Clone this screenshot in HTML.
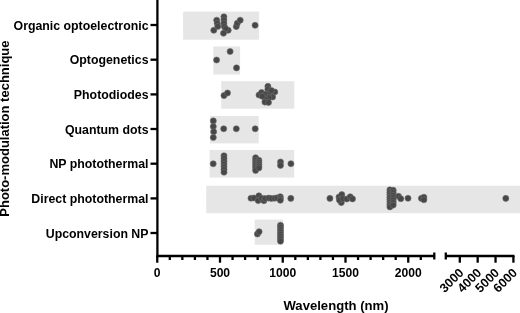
<!DOCTYPE html>
<html><head><meta charset="utf-8"><title>Photo-modulation technique vs wavelength</title>
<style>html,body{margin:0;padding:0;background:#fff}svg{display:block}</style></head><body>
<svg width="520" height="313" viewBox="0 0 520 313">
<rect width="520" height="313" fill="#fff"/>
<defs><filter id="soft" filterUnits="userSpaceOnUse" x="-20" y="-20" width="560" height="353"><feGaussianBlur stdDeviation="0.45"/></filter></defs>
<g filter="url(#soft)">
<g fill="#e6e6e6">
<rect x="183.10" y="11.60" width="76.00" height="28.10"/>
<rect x="213.30" y="46.40" width="26.80" height="28.15"/>
<rect x="221.20" y="81.20" width="73.10" height="27.50"/>
<rect x="210.00" y="116.00" width="48.70" height="27.40"/>
<rect x="209.60" y="149.90" width="84.60" height="27.70"/>
<rect x="206.20" y="185.70" width="325.80" height="27.50"/>
<rect x="254.70" y="219.60" width="28.20" height="25.20"/>
</g>
<g fill="#474747" stroke="#6e6e6e" stroke-width="0.6">
<circle cx="213.8" cy="30.3" r="3.05"/>
<circle cx="216.7" cy="20.2" r="3.05"/>
<circle cx="217.2" cy="23.4" r="3.05"/>
<circle cx="217.8" cy="26.4" r="3.05"/>
<circle cx="223.9" cy="16.8" r="3.05"/>
<circle cx="223.9" cy="20.0" r="3.05"/>
<circle cx="223.9" cy="23.2" r="3.05"/>
<circle cx="224.3" cy="26.6" r="3.05"/>
<circle cx="228.2" cy="30.3" r="3.05"/>
<circle cx="225.7" cy="28.9" r="3.05"/>
<circle cx="223.5" cy="33.2" r="3.05"/>
<circle cx="236.3" cy="26.6" r="3.05"/>
<circle cx="237.3" cy="23.2" r="3.05"/>
<circle cx="240.2" cy="20.2" r="3.05"/>
<circle cx="255.1" cy="25.3" r="3.05"/>
<circle cx="230.1" cy="51.5" r="3.05"/>
<circle cx="216.6" cy="60.0" r="3.05"/>
<circle cx="236.5" cy="67.9" r="3.05"/>
<circle cx="224.0" cy="95.6" r="3.05"/>
<circle cx="227.5" cy="93.0" r="3.05"/>
<circle cx="267.9" cy="86.4" r="3.05"/>
<circle cx="267.9" cy="89.2" r="3.05"/>
<circle cx="259.0" cy="95.0" r="3.05"/>
<circle cx="261.6" cy="92.5" r="3.05"/>
<circle cx="265.1" cy="94.2" r="3.05"/>
<circle cx="269.8" cy="92.5" r="3.05"/>
<circle cx="274.8" cy="92.0" r="3.05"/>
<circle cx="272.6" cy="97.0" r="3.05"/>
<circle cx="268.9" cy="97.7" r="3.05"/>
<circle cx="265.3" cy="99.2" r="3.05"/>
<circle cx="264.9" cy="102.1" r="3.05"/>
<circle cx="268.5" cy="102.5" r="3.05"/>
<circle cx="262.1" cy="96.2" r="3.05"/>
<circle cx="271.4" cy="90.5" r="3.05"/>
<circle cx="213.3" cy="120.9" r="3.05"/>
<circle cx="213.3" cy="126.6" r="3.05"/>
<circle cx="213.7" cy="131.8" r="3.05"/>
<circle cx="213.3" cy="137.5" r="3.05"/>
<circle cx="223.7" cy="128.8" r="3.05"/>
<circle cx="236.3" cy="128.8" r="3.05"/>
<circle cx="255.2" cy="128.8" r="3.05"/>
<circle cx="213.2" cy="163.8" r="3.05"/>
<circle cx="280.5" cy="162.0" r="3.05"/>
<circle cx="280.5" cy="165.4" r="3.05"/>
<circle cx="290.9" cy="163.7" r="3.05"/>
<circle cx="251.0" cy="198.2" r="3.05"/>
<circle cx="254.0" cy="198.0" r="3.05"/>
<circle cx="258.9" cy="195.8" r="3.05"/>
<circle cx="258.2" cy="200.6" r="3.05"/>
<circle cx="261.6" cy="198.2" r="3.05"/>
<circle cx="263.9" cy="200.7" r="3.05"/>
<circle cx="265.1" cy="198.5" r="3.05"/>
<circle cx="268.8" cy="198.1" r="3.05"/>
<circle cx="271.6" cy="198.5" r="3.05"/>
<circle cx="274.8" cy="198.2" r="3.05"/>
<circle cx="277.3" cy="197.9" r="3.05"/>
<circle cx="280.3" cy="196.7" r="3.05"/>
<circle cx="280.3" cy="198.5" r="3.05"/>
<circle cx="280.3" cy="200.3" r="3.05"/>
<circle cx="290.8" cy="198.4" r="3.05"/>
<circle cx="329.9" cy="198.4" r="3.05"/>
<circle cx="339.0" cy="197.1" r="3.05"/>
<circle cx="341.8" cy="194.6" r="3.05"/>
<circle cx="341.3" cy="202.6" r="3.05"/>
<circle cx="339.4" cy="200.1" r="3.05"/>
<circle cx="342.9" cy="198.6" r="3.05"/>
<circle cx="346.8" cy="199.0" r="3.05"/>
<circle cx="350.2" cy="196.8" r="3.05"/>
<circle cx="352.5" cy="198.9" r="3.05"/>
<circle cx="398.5" cy="196.3" r="3.05"/>
<circle cx="400.8" cy="198.7" r="3.05"/>
<circle cx="408.0" cy="198.3" r="3.05"/>
<circle cx="421.4" cy="198.4" r="3.05"/>
<circle cx="423.9" cy="197.2" r="3.05"/>
<circle cx="423.9" cy="199.8" r="3.05"/>
<circle cx="505.8" cy="198.4" r="3.05"/>
<circle cx="257.4" cy="234.0" r="3.05"/>
<circle cx="259.1" cy="231.7" r="3.05"/>
<circle cx="224.0" cy="155.8" r="3.05"/>
<circle cx="224.0" cy="158.5" r="3.05"/>
<circle cx="224.0" cy="161.3" r="3.05"/>
<circle cx="224.0" cy="164.0" r="3.05"/>
<circle cx="224.0" cy="166.7" r="3.05"/>
<circle cx="224.0" cy="169.5" r="3.05"/>
<circle cx="224.0" cy="172.2" r="3.05"/>
<circle cx="255.6" cy="157.7" r="3.05"/>
<circle cx="255.6" cy="160.3" r="3.05"/>
<circle cx="255.6" cy="162.8" r="3.05"/>
<circle cx="255.6" cy="165.4" r="3.05"/>
<circle cx="255.6" cy="167.9" r="3.05"/>
<circle cx="255.6" cy="170.5" r="3.05"/>
<circle cx="258.9" cy="160.3" r="3.05"/>
<circle cx="258.9" cy="162.2" r="3.05"/>
<circle cx="258.9" cy="164.1" r="3.05"/>
<circle cx="258.9" cy="166.0" r="3.05"/>
<circle cx="258.9" cy="167.9" r="3.05"/>
<circle cx="389.9" cy="189.9" r="3.05"/>
<circle cx="389.9" cy="192.3" r="3.05"/>
<circle cx="389.9" cy="194.8" r="3.05"/>
<circle cx="389.9" cy="197.2" r="3.05"/>
<circle cx="389.9" cy="199.6" r="3.05"/>
<circle cx="389.9" cy="202.0" r="3.05"/>
<circle cx="389.9" cy="204.5" r="3.05"/>
<circle cx="389.9" cy="206.9" r="3.05"/>
<circle cx="393.2" cy="190.2" r="3.05"/>
<circle cx="393.2" cy="192.7" r="3.05"/>
<circle cx="393.2" cy="195.2" r="3.05"/>
<circle cx="393.2" cy="197.7" r="3.05"/>
<circle cx="393.2" cy="200.1" r="3.05"/>
<circle cx="393.2" cy="202.6" r="3.05"/>
<circle cx="393.2" cy="205.1" r="3.05"/>
<circle cx="280.5" cy="225.2" r="3.05"/>
<circle cx="280.5" cy="227.4" r="3.05"/>
<circle cx="280.5" cy="229.7" r="3.05"/>
<circle cx="280.5" cy="232.0" r="3.05"/>
<circle cx="280.5" cy="234.3" r="3.05"/>
<circle cx="280.5" cy="236.6" r="3.05"/>
<circle cx="280.5" cy="238.9" r="3.05"/>
<circle cx="280.5" cy="241.2" r="3.05"/>
</g>
<g stroke="#000" stroke-width="2.3" fill="none" stroke-linecap="butt">
<path d="M157.4 -6V257"/>
<path d="M156.4 256H434.3"/>
<path d="M445.8 256H514.5"/>
<path d="M434.3 252.5V259.5M445.8 252.5V259.5"/>
<path d="M150.5 25H157"/>
<path d="M150.5 59.7H157"/>
<path d="M150.5 94.4H157"/>
<path d="M150.5 129H157"/>
<path d="M150.5 163.7H157"/>
<path d="M150.5 198.4H157"/>
<path d="M150.5 233H157"/>
<path d="M157.25 256V262.7"/>
<path d="M169.80 256V260"/>
<path d="M182.35 256V260"/>
<path d="M194.90 256V260"/>
<path d="M207.45 256V260"/>
<path d="M220.00 256V262.7"/>
<path d="M232.55 256V260"/>
<path d="M245.10 256V260"/>
<path d="M257.65 256V260"/>
<path d="M270.20 256V260"/>
<path d="M282.75 256V262.7"/>
<path d="M295.30 256V260"/>
<path d="M307.85 256V260"/>
<path d="M320.40 256V260"/>
<path d="M332.95 256V260"/>
<path d="M345.50 256V262.7"/>
<path d="M358.05 256V260"/>
<path d="M370.60 256V260"/>
<path d="M383.15 256V260"/>
<path d="M395.70 256V260"/>
<path d="M408.25 256V262.7"/>
<path d="M420.80 256V260"/>
<path d="M459.80 256V262.7"/>
<path d="M477.67 256V262.7"/>
<path d="M495.54 256V262.7"/>
<path d="M513.41 256V262.7"/>
</g>
<g font-family="Liberation Sans, Arial, Helvetica, sans-serif" font-weight="bold" font-size="12.33" fill="#000" text-anchor="end">
<text x="148.5" y="29.7">Organic optoelectronic</text>
<text x="148.5" y="64.4">Optogenetics</text>
<text x="148.5" y="99.1">Photodiodes</text>
<text x="148.5" y="133.7">Quantum dots</text>
<text x="148.5" y="168.4">NP photothermal</text>
<text x="148.5" y="203.1">Direct photothermal</text>
<text x="148.5" y="237.7">Upconversion NP</text>
</g>
<g font-family="Liberation Sans, Arial, Helvetica, sans-serif" font-weight="bold" font-size="12.1" fill="#000" text-anchor="middle">
<text x="157.2" y="276.8">0</text>
<text x="220.0" y="276.8">500</text>
<text x="282.8" y="276.8">1000</text>
<text x="345.5" y="276.8">1500</text>
<text x="408.2" y="276.8">2000</text>
</g>
<g font-family="Liberation Sans, Arial, Helvetica, sans-serif" font-weight="bold" font-size="12.5" fill="#000" text-anchor="end">
<text transform="translate(464.3 273.5) rotate(-45)">3000</text>
<text transform="translate(482.2 273.5) rotate(-45)">4000</text>
<text transform="translate(500.0 273.5) rotate(-45)">5000</text>
<text transform="translate(517.9 273.5) rotate(-45)">6000</text>
</g>
<text font-family="Liberation Sans, Arial, Helvetica, sans-serif" font-weight="bold" font-size="13.1" fill="#000" text-anchor="middle" x="336" y="310">Wavelength (nm)</text>
<text font-family="Liberation Sans, Arial, Helvetica, sans-serif" font-weight="bold" font-size="13" fill="#000" text-anchor="middle" transform="translate(9.0 128.6) rotate(-90)">Photo-modulation technique</text>
</g>
</svg></body></html>
